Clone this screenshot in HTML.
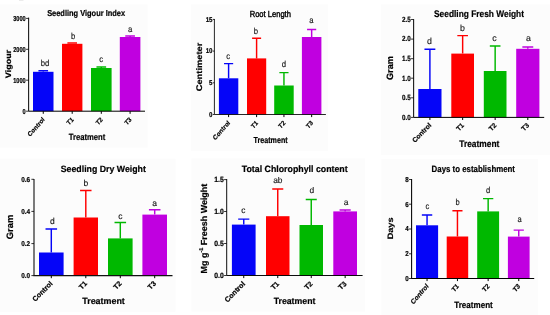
<!DOCTYPE html>
<html><head><meta charset="utf-8"><title>Seedling charts</title>
<style>html,body{margin:0;padding:0;background:#fff}svg{display:block}</style></head>
<body>
<svg width="550" height="315" viewBox="0 0 550 315" font-family="'Liberation Sans', Arial, sans-serif" text-rendering="geometricPrecision" fill="#000">
<rect width="550" height="315" fill="#fff"/>
<rect x="19" y="0" width="4.5" height="1" fill="#ececec"/>
<rect x="0" y="4.3" width="147.5" height="143.2" fill="#fcfcfc"/>
<rect x="191" y="4.4" width="137" height="146.6" fill="#fcfcfc"/>
<rect x="381" y="4.4" width="169" height="150.4" fill="#fcfcfc"/>
<rect x="0" y="158.7" width="175.5" height="153.1" fill="#fcfcfc"/>
<rect x="191.5" y="158.5" width="173.5" height="153.0" fill="#fcfcfc"/>
<rect x="381.5" y="158.8" width="156.5" height="156.2" fill="#fcfcfc"/>
<text transform="translate(86.1,16) scale(0.865,1)" font-size="8.6" font-weight="bold" stroke="#000" stroke-width="0.2" text-anchor="middle">Seedling Vigour Index</text>
<rect x="33" y="71.8" width="20.5" height="39.4" fill="#0505f8"/>
<path d="M43.25 71.8V70.8M38.43 70.8H48.07" stroke="#0505f8" stroke-width="1.45" fill="none"/>
<rect x="62" y="43.8" width="20.4" height="67.4" fill="#ff0000"/>
<path d="M72.2 43.8V43M67.41 43H76.99" stroke="#ff0000" stroke-width="1.45" fill="none"/>
<rect x="91" y="68" width="20.6" height="43.2" fill="#00b800"/>
<path d="M101.3 68V67M96.46 67H106.14" stroke="#00b800" stroke-width="1.45" fill="none"/>
<rect x="119.8" y="37" width="20.6" height="74.2" fill="#c000e0"/>
<path d="M130.1 37V36M125.26 36H134.94" stroke="#c000e0" stroke-width="1.45" fill="none"/>
<path d="M28.65 17.6V111.2H145" stroke="#000" stroke-width="1.0" fill="none"/>
<path d="M26.05 18.4H28.65" stroke="#000" stroke-width="0.8"/>
<text transform="translate(25.65,20.7) scale(0.78,1)" font-size="7.2" font-weight="bold" stroke="#000" stroke-width="0.2" text-anchor="end">3000</text>
<path d="M26.05 49.3H28.65" stroke="#000" stroke-width="0.8"/>
<text transform="translate(25.65,51.6) scale(0.78,1)" font-size="7.2" font-weight="bold" stroke="#000" stroke-width="0.2" text-anchor="end">2000</text>
<path d="M26.05 80.2H28.65" stroke="#000" stroke-width="0.8"/>
<text transform="translate(25.65,82.5) scale(0.78,1)" font-size="7.2" font-weight="bold" stroke="#000" stroke-width="0.2" text-anchor="end">1000</text>
<path d="M26.05 111.2H28.65" stroke="#000" stroke-width="0.8"/>
<text transform="translate(25.65,113.5) scale(0.78,1)" font-size="7.2" font-weight="bold" stroke="#000" stroke-width="0.2" text-anchor="end">0</text>
<path d="M43.25 111.2V113.8" stroke="#000" stroke-width="1"/>
<text transform="translate(45.05,120.0) scale(0.88,1) rotate(-45)" font-size="6.8" font-weight="bold" stroke="#000" stroke-width="0.2" text-anchor="end">Control</text>
<path d="M72.2 111.2V113.8" stroke="#000" stroke-width="1"/>
<text transform="translate(74.0,120.0) scale(0.88,1) rotate(-45)" font-size="6.8" font-weight="bold" stroke="#000" stroke-width="0.2" text-anchor="end">T1</text>
<path d="M101.3 111.2V113.8" stroke="#000" stroke-width="1"/>
<text transform="translate(103.1,120.0) scale(0.88,1) rotate(-45)" font-size="6.8" font-weight="bold" stroke="#000" stroke-width="0.2" text-anchor="end">T2</text>
<path d="M130.1 111.2V113.8" stroke="#000" stroke-width="1"/>
<text transform="translate(131.9,120.0) scale(0.88,1) rotate(-45)" font-size="6.8" font-weight="bold" stroke="#000" stroke-width="0.2" text-anchor="end">T3</text>
<text transform="translate(45.1,66.4) scale(0.91,1)" font-size="8.5" fill="#111" stroke="#111" stroke-width="0.12" text-anchor="middle">bd</text>
<text transform="translate(73.2,38.7) scale(0.91,1)" font-size="8.5" fill="#111" stroke="#111" stroke-width="0.12" text-anchor="middle">b</text>
<text transform="translate(101.2,61.7) scale(0.91,1)" font-size="8.5" fill="#111" stroke="#111" stroke-width="0.12" text-anchor="middle">c</text>
<text transform="translate(130.2,32.0) scale(0.91,1)" font-size="8.5" fill="#111" stroke="#111" stroke-width="0.12" text-anchor="middle">a</text>
<text transform="translate(87,139.8) scale(0.85,1)" font-size="9" font-weight="bold" stroke="#000" stroke-width="0.2" text-anchor="middle">Treatment</text>
<text transform="translate(10.5,64) scale(0.88,1) rotate(-90)" font-size="9" font-weight="bold" stroke="#000" stroke-width="0.2" text-anchor="middle">Vigour</text>
<text transform="translate(270.3,16.6) scale(0.86,1)" font-size="8.8" font-weight="normal" stroke="#000" stroke-width="0.4" text-anchor="middle">Root Length</text>
<rect x="218.9" y="78.3" width="19.4" height="36.2" fill="#0505f8"/>
<path d="M228.60000000000002 78.3V63.6M224.04 63.6H233.16" stroke="#0505f8" stroke-width="1.45" fill="none"/>
<rect x="247" y="58.4" width="19.2" height="56.1" fill="#ff0000"/>
<path d="M256.6 58.4V38.3M252.09 38.3H261.11" stroke="#ff0000" stroke-width="1.45" fill="none"/>
<rect x="274.2" y="85.5" width="19.5" height="29.0" fill="#00b800"/>
<path d="M283.95 85.5V72.6M279.37 72.6H288.53" stroke="#00b800" stroke-width="1.45" fill="none"/>
<rect x="301.9" y="37" width="19.5" height="77.5" fill="#c000e0"/>
<path d="M311.65 37V29.5M307.07 29.5H316.23" stroke="#c000e0" stroke-width="1.45" fill="none"/>
<path d="M214.4 19.0V114.5H325.9" stroke="#000" stroke-width="0.85" fill="none"/>
<path d="M212.8 19.4H214.4" stroke="#000" stroke-width="0.8"/>
<text transform="translate(212.5,21.7) scale(0.88,1)" font-size="7" font-weight="bold" stroke="#000" stroke-width="0.2" text-anchor="end">15</text>
<path d="M212.8 51.1H214.4" stroke="#000" stroke-width="0.8"/>
<text transform="translate(212.5,53.4) scale(0.88,1)" font-size="7" font-weight="bold" stroke="#000" stroke-width="0.2" text-anchor="end">10</text>
<path d="M212.8 82.8H214.4" stroke="#000" stroke-width="0.8"/>
<text transform="translate(212.5,85.1) scale(0.88,1)" font-size="7" font-weight="bold" stroke="#000" stroke-width="0.2" text-anchor="end">5</text>
<path d="M212.8 114.5H214.4" stroke="#000" stroke-width="0.8"/>
<text transform="translate(212.5,116.8) scale(0.88,1)" font-size="7" font-weight="bold" stroke="#000" stroke-width="0.2" text-anchor="end">0</text>
<path d="M228.60000000000002 114.5V117.1" stroke="#000" stroke-width="1"/>
<text transform="translate(230.4,123.3) scale(0.88,1) rotate(-45)" font-size="6.8" font-weight="bold" stroke="#000" stroke-width="0.2" text-anchor="end">Control</text>
<path d="M256.6 114.5V117.1" stroke="#000" stroke-width="1"/>
<text transform="translate(258.4,123.3) scale(0.88,1) rotate(-45)" font-size="6.8" font-weight="bold" stroke="#000" stroke-width="0.2" text-anchor="end">T1</text>
<path d="M283.95 114.5V117.1" stroke="#000" stroke-width="1"/>
<text transform="translate(285.75,123.3) scale(0.88,1) rotate(-45)" font-size="6.8" font-weight="bold" stroke="#000" stroke-width="0.2" text-anchor="end">T2</text>
<path d="M311.65 114.5V117.1" stroke="#000" stroke-width="1"/>
<text transform="translate(313.45,123.3) scale(0.88,1) rotate(-45)" font-size="6.8" font-weight="bold" stroke="#000" stroke-width="0.2" text-anchor="end">T3</text>
<text transform="translate(228.2,59.0) scale(0.91,1)" font-size="8.5" fill="#111" stroke="#111" stroke-width="0.12" text-anchor="middle">c</text>
<text transform="translate(256,34.0) scale(0.91,1)" font-size="8.5" fill="#111" stroke="#111" stroke-width="0.12" text-anchor="middle">b</text>
<text transform="translate(284,67.0) scale(0.91,1)" font-size="8.5" fill="#111" stroke="#111" stroke-width="0.12" text-anchor="middle">d</text>
<text transform="translate(311.5,23.0) scale(0.91,1)" font-size="8.5" fill="#111" stroke="#111" stroke-width="0.12" text-anchor="middle">a</text>
<text transform="translate(270.6,143.3) scale(0.82,1)" font-size="8.7" font-weight="bold" stroke="#000" stroke-width="0.2" text-anchor="middle">Treatment</text>
<text transform="translate(201.5,67) scale(0.88,1) rotate(-90)" font-size="9.3" font-weight="bold" stroke="#000" stroke-width="0.2" text-anchor="middle">Centimeter</text>
<text transform="translate(479,16.6) scale(0.88,1)" font-size="9.5" font-weight="bold" stroke="#000" stroke-width="0.2" text-anchor="middle">Seedling Fresh Weight</text>
<rect x="418.3" y="89" width="23.2" height="28.4" fill="#0505f8"/>
<path d="M429.9 89V49.2M424.45 49.2H435.35" stroke="#0505f8" stroke-width="1.45" fill="none"/>
<rect x="451.3" y="53.6" width="22.7" height="63.8" fill="#ff0000"/>
<path d="M462.65 53.6V35.6M457.32 35.6H467.98" stroke="#ff0000" stroke-width="1.45" fill="none"/>
<rect x="483.8" y="71" width="22.7" height="46.4" fill="#00b800"/>
<path d="M495.15 71V46M489.82 46H500.48" stroke="#00b800" stroke-width="1.45" fill="none"/>
<rect x="516.2" y="48.8" width="23.2" height="68.6" fill="#c000e0"/>
<path d="M527.8 48.8V47M522.35 47H533.25" stroke="#c000e0" stroke-width="1.45" fill="none"/>
<path d="M413.65 19.1V117.4H544.2" stroke="#000" stroke-width="1.0" fill="none"/>
<path d="M411.05 19.5H413.65" stroke="#000" stroke-width="0.8"/>
<text transform="translate(410.65,21.8) scale(0.84,1)" font-size="7.5" font-weight="bold" stroke="#000" stroke-width="0.2" text-anchor="end">2.5</text>
<path d="M411.05 39.1H413.65" stroke="#000" stroke-width="0.8"/>
<text transform="translate(410.65,41.4) scale(0.84,1)" font-size="7.5" font-weight="bold" stroke="#000" stroke-width="0.2" text-anchor="end">2.0</text>
<path d="M411.05 58.7H413.65" stroke="#000" stroke-width="0.8"/>
<text transform="translate(410.65,61.0) scale(0.84,1)" font-size="7.5" font-weight="bold" stroke="#000" stroke-width="0.2" text-anchor="end">1.5</text>
<path d="M411.05 78.2H413.65" stroke="#000" stroke-width="0.8"/>
<text transform="translate(410.65,80.5) scale(0.84,1)" font-size="7.5" font-weight="bold" stroke="#000" stroke-width="0.2" text-anchor="end">1.0</text>
<path d="M411.05 97.8H413.65" stroke="#000" stroke-width="0.8"/>
<text transform="translate(410.65,100.1) scale(0.84,1)" font-size="7.5" font-weight="bold" stroke="#000" stroke-width="0.2" text-anchor="end">0.5</text>
<path d="M411.05 117.4H413.65" stroke="#000" stroke-width="0.8"/>
<text transform="translate(410.65,119.7) scale(0.84,1)" font-size="7.5" font-weight="bold" stroke="#000" stroke-width="0.2" text-anchor="end">0.0</text>
<path d="M429.9 117.4V120.0" stroke="#000" stroke-width="1"/>
<text transform="translate(431.7,125.7) scale(0.97,1) rotate(-45)" font-size="6.9" font-weight="bold" stroke="#000" stroke-width="0.2" text-anchor="end">Control</text>
<path d="M462.65 117.4V120.0" stroke="#000" stroke-width="1"/>
<text transform="translate(464.45,125.7) scale(0.97,1) rotate(-45)" font-size="6.9" font-weight="bold" stroke="#000" stroke-width="0.2" text-anchor="end">T1</text>
<path d="M495.15 117.4V120.0" stroke="#000" stroke-width="1"/>
<text transform="translate(496.95,125.7) scale(0.97,1) rotate(-45)" font-size="6.9" font-weight="bold" stroke="#000" stroke-width="0.2" text-anchor="end">T2</text>
<path d="M527.8 117.4V120.0" stroke="#000" stroke-width="1"/>
<text transform="translate(529.6,125.7) scale(0.97,1) rotate(-45)" font-size="6.9" font-weight="bold" stroke="#000" stroke-width="0.2" text-anchor="end">T3</text>
<text transform="translate(429.4,43.7) scale(1.0,1)" font-size="8.8" fill="#111" stroke="#111" stroke-width="0.12" text-anchor="middle">d</text>
<text transform="translate(462.4,30.9) scale(1.0,1)" font-size="8.8" fill="#111" stroke="#111" stroke-width="0.12" text-anchor="middle">b</text>
<text transform="translate(494.4,40.7) scale(1.0,1)" font-size="8.8" fill="#111" stroke="#111" stroke-width="0.12" text-anchor="middle">c</text>
<text transform="translate(528.4,41.2) scale(1.0,1)" font-size="8.8" fill="#111" stroke="#111" stroke-width="0.12" text-anchor="middle">a</text>
<text transform="translate(479.3,146.6) scale(0.875,1)" font-size="9.6" font-weight="bold" stroke="#000" stroke-width="0.2" text-anchor="middle">Treatment</text>
<text transform="translate(393.4,68.1) scale(1.0,1) rotate(-90)" font-size="9.15" font-weight="bold" stroke="#000" stroke-width="0.2" text-anchor="middle">Gram</text>
<text transform="translate(103.3,172.1) scale(0.965,1)" font-size="9.1" font-weight="bold" stroke="#000" stroke-width="0.2" text-anchor="middle">Seedling Dry Weight</text>
<rect x="39" y="252.5" width="24.6" height="23.1" fill="#0505f8"/>
<path d="M51.3 252.5V229M45.52 229H57.08" stroke="#0505f8" stroke-width="1.45" fill="none"/>
<rect x="73.6" y="217.5" width="24.4" height="58.1" fill="#ff0000"/>
<path d="M85.8 217.5V190.5M80.07 190.5H91.53" stroke="#ff0000" stroke-width="1.45" fill="none"/>
<rect x="108" y="238.4" width="24.6" height="37.2" fill="#00b800"/>
<path d="M120.3 238.4V222.5M114.52 222.5H126.08" stroke="#00b800" stroke-width="1.45" fill="none"/>
<rect x="142.4" y="214.6" width="24.6" height="61.0" fill="#c000e0"/>
<path d="M154.7 214.6V209.8M148.92 209.8H160.48" stroke="#c000e0" stroke-width="1.45" fill="none"/>
<path d="M34.0 178.9V275.6H172.5" stroke="#111" stroke-width="1.1" fill="none"/>
<path d="M31.4 179.3H34.0" stroke="#000" stroke-width="0.8"/>
<text transform="translate(30.2,181.6) scale(0.92,1)" font-size="7" font-weight="bold" stroke="#000" stroke-width="0.2" text-anchor="end">0.6</text>
<path d="M31.4 211.4H34.0" stroke="#000" stroke-width="0.8"/>
<text transform="translate(30.2,213.7) scale(0.92,1)" font-size="7" font-weight="bold" stroke="#000" stroke-width="0.2" text-anchor="end">0.4</text>
<path d="M31.4 243.6H34.0" stroke="#000" stroke-width="0.8"/>
<text transform="translate(30.2,245.9) scale(0.92,1)" font-size="7" font-weight="bold" stroke="#000" stroke-width="0.2" text-anchor="end">0.2</text>
<path d="M31.4 275.6H34.0" stroke="#000" stroke-width="0.8"/>
<text transform="translate(30.2,277.9) scale(0.92,1)" font-size="7" font-weight="bold" stroke="#000" stroke-width="0.2" text-anchor="end">0.0</text>
<path d="M51.3 275.6V278.20000000000005" stroke="#000" stroke-width="1"/>
<text transform="translate(53.1,284.0) scale(1.0,1) rotate(-45)" font-size="7.15" font-weight="bold" stroke="#000" stroke-width="0.2" text-anchor="end">Control</text>
<path d="M85.8 275.6V278.20000000000005" stroke="#000" stroke-width="1"/>
<text transform="translate(87.6,284.0) scale(1.0,1) rotate(-45)" font-size="7.15" font-weight="bold" stroke="#000" stroke-width="0.2" text-anchor="end">T1</text>
<path d="M120.3 275.6V278.20000000000005" stroke="#000" stroke-width="1"/>
<text transform="translate(122.1,284.0) scale(1.0,1) rotate(-45)" font-size="7.15" font-weight="bold" stroke="#000" stroke-width="0.2" text-anchor="end">T2</text>
<path d="M154.7 275.6V278.20000000000005" stroke="#000" stroke-width="1"/>
<text transform="translate(156.5,284.0) scale(1.0,1) rotate(-45)" font-size="7.15" font-weight="bold" stroke="#000" stroke-width="0.2" text-anchor="end">T3</text>
<text transform="translate(52.4,223.9) scale(1.0,1)" font-size="8.5" fill="#111" stroke="#111" stroke-width="0.12" text-anchor="middle">d</text>
<text transform="translate(85.8,185.7) scale(1.0,1)" font-size="8.5" fill="#111" stroke="#111" stroke-width="0.12" text-anchor="middle">b</text>
<text transform="translate(120.3,219.0) scale(1.0,1)" font-size="8.5" fill="#111" stroke="#111" stroke-width="0.12" text-anchor="middle">c</text>
<text transform="translate(154.7,205.6) scale(1.0,1)" font-size="8.5" fill="#111" stroke="#111" stroke-width="0.12" text-anchor="middle">a</text>
<text transform="translate(103.5,304.4) scale(0.99,1)" font-size="9" font-weight="bold" stroke="#000" stroke-width="0.2" text-anchor="middle">Treatment</text>
<text transform="translate(12.9,227) scale(1.0,1) rotate(-90)" font-size="9.3" font-weight="bold" stroke="#000" stroke-width="0.2" text-anchor="middle">Gram</text>
<text transform="translate(294.7,171.6) scale(0.958,1)" font-size="9.2" font-weight="bold" stroke="#000" stroke-width="0.2" text-anchor="middle">Total Chlorophyll content</text>
<rect x="231.9" y="224.6" width="23.7" height="50.9" fill="#0505f8"/>
<path d="M243.75 224.6V219.1M238.18 219.1H249.32" stroke="#0505f8" stroke-width="1.45" fill="none"/>
<rect x="266" y="216.2" width="23.5" height="59.3" fill="#ff0000"/>
<path d="M277.75 216.2V189M272.23 189H283.27" stroke="#ff0000" stroke-width="1.45" fill="none"/>
<rect x="299.5" y="225" width="23.5" height="50.5" fill="#00b800"/>
<path d="M311.25 225V199.4M305.73 199.4H316.77" stroke="#00b800" stroke-width="1.45" fill="none"/>
<rect x="333.3" y="211.4" width="23.7" height="64.1" fill="#c000e0"/>
<path d="M345.15 211.4V210M339.58 210H350.72" stroke="#c000e0" stroke-width="1.45" fill="none"/>
<path d="M226.7 179.0V275.5H362.6" stroke="#000" stroke-width="0.95" fill="none"/>
<path d="M224.1 179.6H226.7" stroke="#000" stroke-width="0.8"/>
<text transform="translate(223.7,181.9) scale(0.9,1)" font-size="7.6" font-weight="bold" stroke="#000" stroke-width="0.2" text-anchor="end">1.5</text>
<path d="M224.1 211.5H226.7" stroke="#000" stroke-width="0.8"/>
<text transform="translate(223.7,213.8) scale(0.9,1)" font-size="7.6" font-weight="bold" stroke="#000" stroke-width="0.2" text-anchor="end">1.0</text>
<path d="M224.1 243.5H226.7" stroke="#000" stroke-width="0.8"/>
<text transform="translate(223.7,245.8) scale(0.9,1)" font-size="7.6" font-weight="bold" stroke="#000" stroke-width="0.2" text-anchor="end">0.5</text>
<path d="M224.1 275.5H226.7" stroke="#000" stroke-width="0.8"/>
<text transform="translate(223.7,277.8) scale(0.9,1)" font-size="7.6" font-weight="bold" stroke="#000" stroke-width="0.2" text-anchor="end">0.0</text>
<path d="M243.75 275.5V278.1" stroke="#000" stroke-width="1"/>
<text transform="translate(245.55,284.3) scale(0.98,1) rotate(-45)" font-size="7.3" font-weight="bold" stroke="#000" stroke-width="0.2" text-anchor="end">Control</text>
<path d="M277.75 275.5V278.1" stroke="#000" stroke-width="1"/>
<text transform="translate(279.55,284.3) scale(0.98,1) rotate(-45)" font-size="7.3" font-weight="bold" stroke="#000" stroke-width="0.2" text-anchor="end">T1</text>
<path d="M311.25 275.5V278.1" stroke="#000" stroke-width="1"/>
<text transform="translate(313.05,284.3) scale(0.98,1) rotate(-45)" font-size="7.3" font-weight="bold" stroke="#000" stroke-width="0.2" text-anchor="end">T2</text>
<path d="M345.15 275.5V278.1" stroke="#000" stroke-width="1"/>
<text transform="translate(346.95,284.3) scale(0.98,1) rotate(-45)" font-size="7.3" font-weight="bold" stroke="#000" stroke-width="0.2" text-anchor="end">T3</text>
<text transform="translate(243.3,212.9) scale(1.0,1)" font-size="8.4" fill="#111" stroke="#111" stroke-width="0.12" text-anchor="middle">c</text>
<text transform="translate(277.8,183.3) scale(1.0,1)" font-size="8.4" fill="#111" stroke="#111" stroke-width="0.12" text-anchor="middle">ab</text>
<text transform="translate(311.8,192.9) scale(1.0,1)" font-size="8.4" fill="#111" stroke="#111" stroke-width="0.12" text-anchor="middle">d</text>
<text transform="translate(346.2,204.5) scale(1.0,1)" font-size="8.4" fill="#111" stroke="#111" stroke-width="0.12" text-anchor="middle">a</text>
<text transform="translate(294.5,304.4) scale(0.97,1)" font-size="9" font-weight="bold" stroke="#000" stroke-width="0.2" text-anchor="middle">Treatment</text>
<text transform="translate(206.6,228.6) scale(0.98,1) rotate(-90)" font-size="8.95" font-weight="bold" stroke="#000" stroke-width="0.2" text-anchor="middle">Mg g<tspan dy='-3.2' font-size='5.6'>-1</tspan><tspan dy='3.2'> Freesh Weight</tspan></text>
<text transform="translate(473.3,172.1) scale(0.855,1)" font-size="9.2" font-weight="bold" stroke="#000" stroke-width="0.2" text-anchor="middle">Days to establishment</text>
<rect x="416.0" y="225.3" width="22.1" height="53.2" fill="#0505f8"/>
<path d="M427.05 225.3V215M421.86 215H432.24" stroke="#0505f8" stroke-width="1.45" fill="none"/>
<rect x="446.7" y="236.5" width="21.5" height="42.0" fill="#ff0000"/>
<path d="M457.45 236.5V210.7M452.4 210.7H462.5" stroke="#ff0000" stroke-width="1.45" fill="none"/>
<rect x="477.2" y="211.4" width="21.9" height="67.1" fill="#00b800"/>
<path d="M488.15 211.4V198.6M483.0 198.6H493.3" stroke="#00b800" stroke-width="1.45" fill="none"/>
<rect x="507.9" y="236.6" width="21.7" height="41.9" fill="#c000e0"/>
<path d="M518.75 236.6V230.1M513.65 230.1H523.85" stroke="#c000e0" stroke-width="1.45" fill="none"/>
<path d="M411.6 179.0V278.5H534.2" stroke="#000" stroke-width="1.05" fill="none"/>
<path d="M409.0 179.5H411.6" stroke="#000" stroke-width="0.8"/>
<text transform="translate(408.6,181.8) scale(0.86,1)" font-size="7.2" font-weight="bold" stroke="#000" stroke-width="0.2" text-anchor="end">8</text>
<path d="M409.0 204.2H411.6" stroke="#000" stroke-width="0.8"/>
<text transform="translate(408.6,206.5) scale(0.86,1)" font-size="7.2" font-weight="bold" stroke="#000" stroke-width="0.2" text-anchor="end">6</text>
<path d="M409.0 229H411.6" stroke="#000" stroke-width="0.8"/>
<text transform="translate(408.6,231.3) scale(0.86,1)" font-size="7.2" font-weight="bold" stroke="#000" stroke-width="0.2" text-anchor="end">4</text>
<path d="M409.0 253.8H411.6" stroke="#000" stroke-width="0.8"/>
<text transform="translate(408.6,256.1) scale(0.86,1)" font-size="7.2" font-weight="bold" stroke="#000" stroke-width="0.2" text-anchor="end">2</text>
<path d="M409.0 278.5H411.6" stroke="#000" stroke-width="0.8"/>
<text transform="translate(408.6,280.8) scale(0.86,1)" font-size="7.2" font-weight="bold" stroke="#000" stroke-width="0.2" text-anchor="end">0</text>
<path d="M427.05 278.5V281.1" stroke="#000" stroke-width="1"/>
<text transform="translate(428.85,286.6) scale(0.86,1) rotate(-45)" font-size="7.2" font-weight="bold" stroke="#000" stroke-width="0.2" text-anchor="end">Control</text>
<path d="M457.45 278.5V281.1" stroke="#000" stroke-width="1"/>
<text transform="translate(459.25,286.6) scale(0.86,1) rotate(-45)" font-size="7.2" font-weight="bold" stroke="#000" stroke-width="0.2" text-anchor="end">T1</text>
<path d="M488.15 278.5V281.1" stroke="#000" stroke-width="1"/>
<text transform="translate(489.95,286.6) scale(0.86,1) rotate(-45)" font-size="7.2" font-weight="bold" stroke="#000" stroke-width="0.2" text-anchor="end">T2</text>
<path d="M518.75 278.5V281.1" stroke="#000" stroke-width="1"/>
<text transform="translate(520.55,286.6) scale(0.86,1) rotate(-45)" font-size="7.2" font-weight="bold" stroke="#000" stroke-width="0.2" text-anchor="end">T3</text>
<text transform="translate(427.5,209.2) scale(0.89,1)" font-size="8.5" fill="#111" stroke="#111" stroke-width="0.12" text-anchor="middle">c</text>
<text transform="translate(457.7,204.5) scale(0.89,1)" font-size="8.5" fill="#111" stroke="#111" stroke-width="0.12" text-anchor="middle">b</text>
<text transform="translate(488,192.5) scale(0.89,1)" font-size="8.5" fill="#111" stroke="#111" stroke-width="0.12" text-anchor="middle">d</text>
<text transform="translate(519.5,222.1) scale(0.89,1)" font-size="8.5" fill="#111" stroke="#111" stroke-width="0.12" text-anchor="middle">a</text>
<text transform="translate(473.5,308.4) scale(0.877,1)" font-size="9.2" font-weight="bold" stroke="#000" stroke-width="0.2" text-anchor="middle">Treatment</text>
<text transform="translate(393.4,228.4) scale(0.86,1) rotate(-90)" font-size="9.15" font-weight="bold" stroke="#000" stroke-width="0.2" text-anchor="middle">Days</text>
</svg>
</body></html>
